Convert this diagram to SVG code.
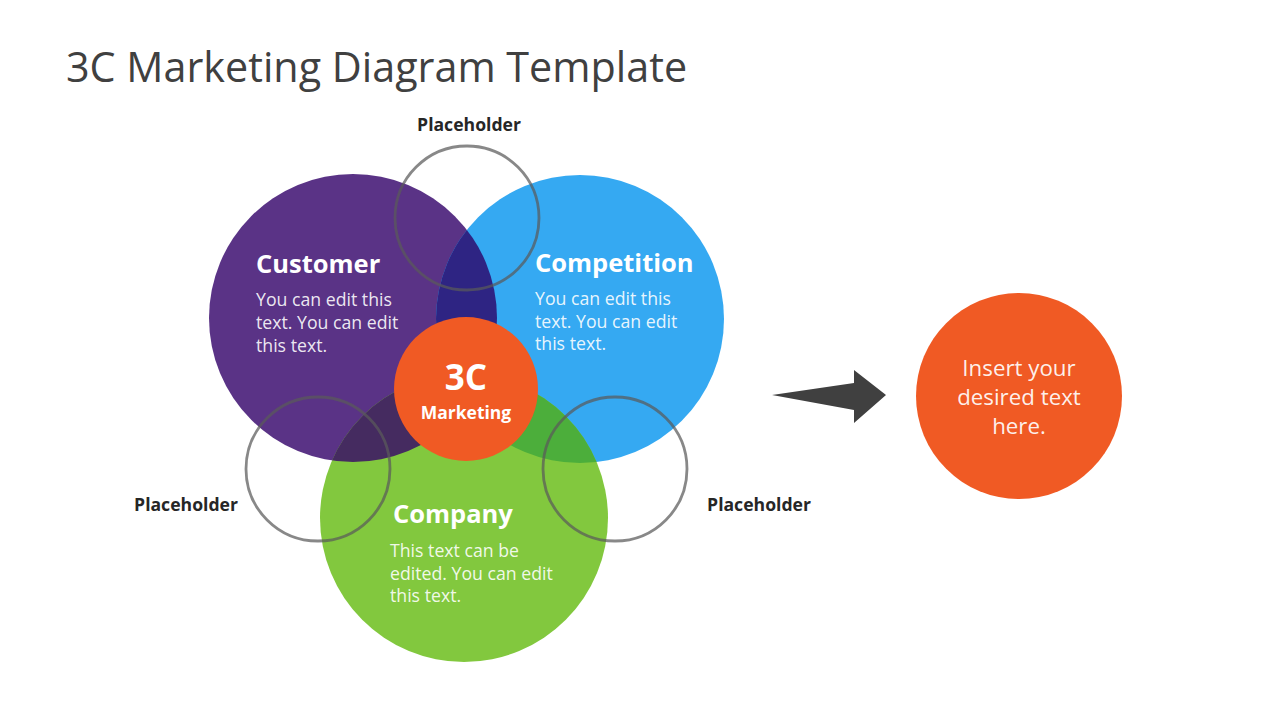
<svg xmlns="http://www.w3.org/2000/svg" width="1280" height="720" viewBox="0 0 1280 720">
<defs>
<style>
.title{font-family:"Open Sans","Noto Sans",sans-serif;font-size:41.3px;fill:#404040}
.head{font-family:"Open Sans","Noto Sans",sans-serif;font-weight:bold;font-size:25.5px;fill:#ffffff}
.body{font-family:"Open Sans","Noto Sans",sans-serif;font-size:17.7px;fill:#ffffff;fill-opacity:0.9}
.lbl{font-family:"Open Sans","Noto Sans",sans-serif;font-weight:bold;font-size:17.6px;fill:#262626}
.ph{fill:none;stroke:#5a5a5a;stroke-opacity:0.72;stroke-width:2.8}
</style>
<clipPath id="cpPurple"><circle cx="353" cy="318" r="144"/></clipPath>
<clipPath id="cpBlue"><circle cx="580" cy="319" r="144"/></clipPath>
</defs>
<rect width="1280" height="720" fill="#ffffff"/>
<text class="title" x="66" y="82">3C Marketing Diagram Template</text>

<g id="customer">
<circle cx="353" cy="318" r="144" fill="#5a3386"/>
</g>
<g id="competition">
<circle cx="580" cy="319" r="144" fill="#35a9f2"/>
</g>
<g id="company">
<circle cx="464" cy="518" r="144" fill="#82c83e"/>
</g>
<g id="overlaps">
<circle cx="580" cy="319" r="144" fill="#2e2483" clip-path="url(#cpPurple)"/>
<circle cx="464" cy="518" r="144" fill="#452b60" clip-path="url(#cpPurple)"/>
<circle cx="464" cy="518" r="144" fill="#4cae3b" clip-path="url(#cpBlue)"/>
</g>
<g id="customer-text">
<text class="head" x="256" y="273">Customer</text>
<text class="body"><tspan x="256" y="306">You can edit this</tspan><tspan x="256" y="329">text. You can edit</tspan><tspan x="256" y="352">this text.</tspan></text>
</g>
<g id="competition-text">
<text class="head" x="535" y="272">Competition</text>
<text class="body"><tspan x="535" y="305">You can edit this</tspan><tspan x="535" y="328">text. You can edit</tspan><tspan x="535" y="350">this text.</tspan></text>
</g>
<g id="company-text">
<text class="head" x="393" y="523">Company</text>
<text class="body"><tspan x="390" y="557">This text can be</tspan><tspan x="390" y="580">edited. You can edit</tspan><tspan x="390" y="602">this text.</tspan></text>
</g>
<g id="placeholder-top">
<circle class="ph" cx="467" cy="218" r="72"/>
<text class="lbl" x="469" y="131" text-anchor="middle">Placeholder</text>
</g>
<g id="placeholder-left">
<circle class="ph" cx="318" cy="469" r="72"/>
<text class="lbl" x="186" y="511" text-anchor="middle">Placeholder</text>
</g>
<g id="placeholder-right">
<circle class="ph" cx="615" cy="469" r="72"/>
<text class="lbl" x="759" y="511" text-anchor="middle">Placeholder</text>
</g>
<g id="center">
<circle cx="466" cy="389" r="72" fill="#f05a24"/>
<text x="466" y="390" text-anchor="middle" font-family="Open Sans, Noto Sans, sans-serif" font-weight="bold" font-size="35" fill="#ffffff">3C</text>
<text x="466" y="419" text-anchor="middle" font-family="Open Sans, Noto Sans, sans-serif" font-weight="bold" font-size="17.5" fill="#ffffff">Marketing</text>
</g>
<g id="connectors">
<polygon points="772,395 854,383 854,370 886,395 854,423 854,410" fill="#404040"/>
</g>
<g id="result">
<circle cx="1019" cy="396" r="103" fill="#f05a24"/>
<text font-family="Open Sans, Noto Sans, sans-serif" font-size="22.3" fill="#ffffff" fill-opacity="0.92" text-anchor="middle"><tspan x="1019" y="376">Insert your</tspan><tspan x="1019" y="405">desired text</tspan><tspan x="1019" y="434">here.</tspan></text>
</g>
</svg>
